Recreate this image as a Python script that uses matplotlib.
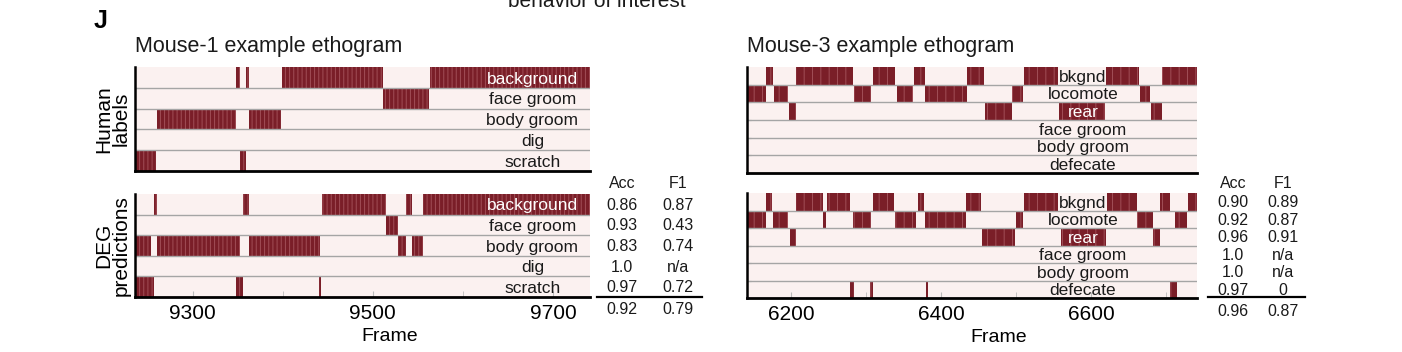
import matplotlib.pyplot as plt
from matplotlib.transforms import blended_transform_factory

plt.rcParams['font.family'] = ['Liberation Sans', 'DejaVu Sans']
plt.rcParams['hatch.linewidth'] = 0.7

W, H = 1402, 352
dark = '#7a1e28'
stripe = '#a14e57'
pink = '#fbf1f0'
row_line = '#a5a5a5'
txt = '#1a1a1a'

# Mouse-1 ethogram (frames)
m1_rows = ['background', 'face groom', 'body groom', 'dig', 'scratch']
m1_human = [
    [(9348, 9353), (9359, 9362), (9399, 9511), (9563, 9741)],
    [(9511, 9562)],
    [(9260, 9348), (9363, 9398)],
    [],
    [(9236, 9259), (9353, 9359)],
]
m1_deg = [
    [(9257, 9260), (9356, 9363), (9443, 9515), (9537, 9543), (9556, 9741)],
    [(9515, 9528)],
    [(9236, 9254), (9260, 9353), (9363, 9441), (9528, 9537), (9543, 9556)],
    [],
    [(9236, 9257), (9348, 9356), (9440, 9442)],
]
m1_acc = ['0.86', '0.93', '0.83', '1.0', '0.97']
m1_f1 = ['0.87', '0.43', '0.74', 'n/a', '0.72']
m1_total = ['0.92', '0.79']
m1_xlim = (9236, 9741)
m1_ticks = [9300, 9500, 9700]
m1_minor = [9300, 9400, 9500, 9600, 9700]

# Mouse-3 ethogram (frames)
m3_rows = ['bkgnd', 'locomote', 'rear', 'face groom', 'body groom', 'defecate']
m3_human = [
    [(6167, 6176), (6207, 6283), (6309, 6338), (6364, 6378), (6435, 6457),
     (6510, 6556), (6620, 6664), (6695, 6741)],
    [(6141, 6166), (6177, 6196), (6284, 6307), (6341, 6363), (6378, 6434),
     (6495, 6509), (6665, 6679)],
    [(6197, 6206), (6458, 6494), (6557, 6619), (6680, 6694)],
    [],
    [],
    [],
]
m3_deg = [
    [(6167, 6175), (6206, 6242), (6248, 6278), (6309, 6337), (6369, 6377),
     (6433, 6453), (6510, 6556), (6621, 6661), (6692, 6705), (6729, 6741)],
    [(6141, 6167), (6176, 6196), (6243, 6247), (6282, 6307), (6338, 6367),
     (6378, 6433), (6500, 6509), (6661, 6682), (6712, 6728)],
    [(6198, 6206), (6454, 6499), (6560, 6620), (6683, 6692)],
    [],
    [],
    [(6279, 6284), (6305, 6309), (6380, 6382), (6705, 6714)],
]
m3_acc = ['0.90', '0.92', '0.96', '1.0', '1.0', '0.97']
m3_f1 = ['0.89', '0.87', '0.91', 'n/a', 'n/a', '0']
m3_total = ['0.96', '0.87']
m3_xlim = (6141, 6741)
m3_ticks = [6200, 6400, 6600]
m3_minor = [6200, 6300, 6400, 6500, 6600, 6700]


def box(x0, y0, x1, y1):
    # pixel box -> figure fraction rect
    return [x0 / W, 1 - y1 / H, (x1 - x0) / W, (y1 - y0) / H]


def ethogram(ax, rows, segs, xlim, label_x, hatch):
    n = len(rows)
    ax.set_facecolor(pink)
    for i, (name, s) in enumerate(zip(rows, segs)):
        y = n - 1 - i
        if s:
            ax.broken_barh([(a, b - a) for a, b in s], (y, 1), facecolor=dark,
                           edgecolor=stripe, hatch=hatch, linewidth=0)
        on_bar = any(a <= label_x <= b for a, b in s)
        ax.text(label_x, y + 0.42, name, ha='center', va='center', fontsize=12.5,
                color='white' if on_bar else txt)
    for y in range(1, n):
        ax.axhline(y, color=row_line, lw=1)
    ax.set_xlim(xlim)
    ax.set_ylim(0, n)
    for sp in ['top', 'right']:
        ax.spines[sp].set_visible(False)
    ax.spines['bottom'].set_linewidth(2)
    ax.spines['left'].set_linewidth(1.8)
    ax.set_yticks(range(1, n))
    ax.tick_params(axis='y', direction='in', length=3, color='#888888', labelleft=False)


def axis_ticks(ax, major, minor, label_x):
    ax.set_xticks(major)
    ax.set_xticks(minor, minor=True)
    ax.tick_params(axis='x', which='both', direction='in', length=4, color='#bbbbbb',
                   labelsize=15, pad=5)
    ax.set_xlabel('Frame', fontsize=14)
    ax.xaxis.set_label_coords(label_x, -0.3)


def table(ax, n, acc, f1, total, x_acc, x_f1, y_head, y_total, line_x):
    tr = blended_transform_factory(fig.transFigure, ax.transData)
    for i in range(n):
        y = n - 1 - i + 0.45
        fig.text(x_acc / W, y, acc[i], transform=tr, ha='center', va='center', fontsize=11.5, color=txt)
        fig.text(x_f1 / W, y, f1[i], transform=tr, ha='center', va='center', fontsize=11.5, color=txt)
    fig.text(x_acc / W, 1 - y_head / H, 'Acc', ha='center', va='center', fontsize=11.5, color=txt)
    fig.text(x_f1 / W, 1 - y_head / H, 'F1', ha='center', va='center', fontsize=11.5, color=txt)
    fig.text(x_acc / W, 1 - y_total / H, total[0], ha='center', va='center', fontsize=11.5, color=txt)
    fig.text(x_f1 / W, 1 - y_total / H, total[1], ha='center', va='center', fontsize=11.5, color=txt)
    fig.add_artist(plt.Line2D([line_x[0] / W, line_x[1] / W], [1 - 297 / H, 1 - 297 / H],
                              color='black', lw=1.6))


fig = plt.figure(figsize=(W / 100, H / 100), dpi=100)

ax1 = fig.add_axes(box(135, 67, 590, 171))
ax2 = fig.add_axes(box(135, 194, 590, 297))
ax3 = fig.add_axes(box(747, 67, 1197, 173))
ax4 = fig.add_axes(box(747, 193, 1197, 298))

ethogram(ax1, m1_rows, m1_human, m1_xlim, 9677, '||||')
ethogram(ax2, m1_rows, m1_deg, m1_xlim, 9677, '||||')
ethogram(ax3, m3_rows, m3_human, m3_xlim, 6589, '||')
ethogram(ax4, m3_rows, m3_deg, m3_xlim, 6589, '||')

for ax in [ax1, ax3]:
    ax.set_xticks([])
axis_ticks(ax2, m1_ticks, m1_minor, 0.56)
axis_ticks(ax4, m3_ticks, m3_minor, 0.56)

ax1.set_ylabel('Human\nlabels', fontsize=15, linespacing=0.9, labelpad=3)
ax2.set_ylabel('DEG\npredictions', fontsize=15, linespacing=0.9, labelpad=3)

ax1.set_title('Mouse-1 example ethogram', loc='left', fontsize=15.5, pad=11, color=txt)
ax3.set_title('Mouse-3 example ethogram', loc='left', fontsize=15.5, pad=11, color=txt)

table(ax2, 5, m1_acc, m1_f1, m1_total, 622, 678, 183, 310, (597, 702))
table(ax4, 6, m3_acc, m3_f1, m3_total, 1233, 1283, 183, 312, (1208, 1305))

fig.text(101 / W, 1 - 21 / H, 'J', fontsize=18, fontweight='bold', ha='center', va='center')
fig.text(597 / W, 1 - 7 / H, 'behavior of interest', fontsize=15, ha='center', va='baseline', color=txt)

fig.savefig('out.png', dpi=100, facecolor='white')
